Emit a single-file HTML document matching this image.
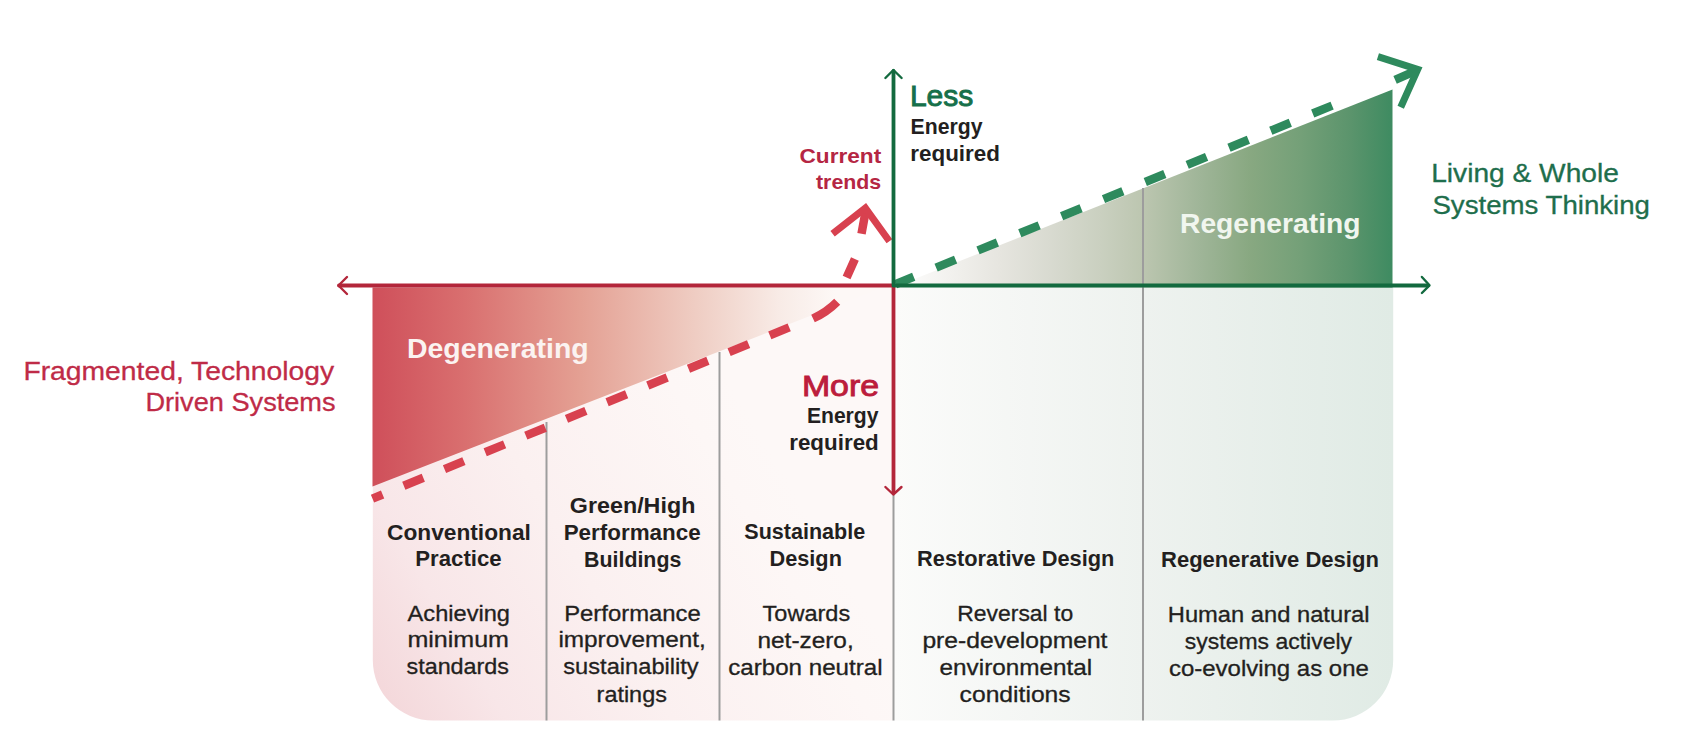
<!DOCTYPE html>
<html><head><meta charset="utf-8"><title>Degenerating to Regenerating</title>
<style>
html,body{margin:0;padding:0;background:#fff;}
body{width:1684px;height:752px;overflow:hidden;}
svg{display:block;}
text{font-family:"Liberation Sans",Arial,sans-serif;}
</style></head><body>
<svg width="1684" height="752" viewBox="0 0 1684 752">
<defs>
 <clipPath id="panel"><path d="M372.8,287H1393.2V660A60.5,60.5 0 0 1 1332.7,720.5H433.3A60.5,60.5 0 0 1 372.8,660Z"/></clipPath>
 <linearGradient id="gPink" gradientUnits="userSpaceOnUse" x1="372" y1="720" x2="784" y2="473">
  <stop offset="0" stop-color="#f3d5d8"/><stop offset="0.24" stop-color="#f8e6e8"/><stop offset="0.536" stop-color="#fbf0f0"/><stop offset="0.893" stop-color="#fdf7f6"/><stop offset="1" stop-color="#fdf8f7"/>
 </linearGradient>
 <linearGradient id="gGrey" gradientUnits="userSpaceOnUse" x1="893" y1="0" x2="1393" y2="0">
  <stop offset="0" stop-color="#fbfbfa"/><stop offset="0.5" stop-color="#eef2ef"/><stop offset="1" stop-color="#e0ebe5"/>
 </linearGradient>
 <linearGradient id="gRed" gradientUnits="userSpaceOnUse" x1="372" y1="0" x2="835" y2="0">
  <stop offset="0" stop-color="#cf4f5a"/><stop offset="0.2" stop-color="#d96f6f"/><stop offset="0.45" stop-color="#e4a093"/>
  <stop offset="0.7" stop-color="#efcdc3"/><stop offset="0.88" stop-color="#f8ebe6"/><stop offset="1" stop-color="#fdf8f6"/>
 </linearGradient>
 <linearGradient id="gGrn" gradientUnits="userSpaceOnUse" x1="893" y1="0" x2="1392.5" y2="0">
  <stop offset="0" stop-color="#ffffff"/><stop offset="0.114" stop-color="#f2f1ee"/><stop offset="0.214" stop-color="#e6e5df"/>
  <stop offset="0.315" stop-color="#d8dad0"/><stop offset="0.415" stop-color="#cad0c0"/><stop offset="0.5" stop-color="#bcc6b0"/>
  <stop offset="0.615" stop-color="#9fb598"/><stop offset="0.715" stop-color="#88a881"/><stop offset="0.816" stop-color="#74a078"/>
  <stop offset="0.916" stop-color="#5b946c"/><stop offset="1" stop-color="#3e8b61"/>
 </linearGradient>
</defs>
<rect width="1684" height="752" fill="#fff"/>
<g clip-path="url(#panel)">
 <rect x="372" y="287" width="521.5" height="440" fill="url(#gPink)"/>
 <rect x="893" y="287" width="501" height="440" fill="url(#gGrey)"/>
</g>
<path d="M372.5,287.5H883L372.5,486.5Z" fill="url(#gRed)"/>
<path d="M893,287.5L1392.5,89.5V287.5Z" fill="url(#gGrn)"/>
<g stroke="#9d9d9d" stroke-width="2" fill="none">
 <path d="M546.5,422V720.5M719.5,352V720.5M893.5,495V720.5M1143,188V720.5"/>
</g>
<g fill="none" stroke-linecap="butt">
 <path d="M372.5,498.7L382.6,494.5M403.8,485.8L423.3,477.8M444.5,469.1L463.9,461.1M485.2,452.3L504.6,444.4M525.8,435.6L545.3,427.7M566.5,418.9L585.9,410.9M607.1,402.2L626.6,394.2M647.8,385.5L667.2,377.5M688.5,368.8L707.9,360.8M729.1,352.1L748.6,344.1M769.8,335.4L789.2,327.4M813,318.5Q827,312 837.2,301.7M846.6,277.5L854.9,258.9M861.5,233.8L865.5,212" stroke="#d8414f" stroke-width="8.5"/>
 <path d="M832.6,233.8L865.4,208.1L889.4,241.2" stroke="#d8414f" stroke-width="7" stroke-linejoin="miter"/>
 <path d="M895.5,284.2L913.7,276.7M936.1,267.6L955.6,259.6M978.0,250.4L997.4,242.5M1019.8,233.3L1039.2,225.4M1061.6,216.2L1081.1,208.3M1103.5,199.1L1122.9,191.2M1145.3,182.0L1164.8,174.0M1187.2,164.9L1206.6,156.9M1229.0,147.8L1248.4,139.8M1270.8,130.7L1290.3,122.7M1312.7,113.5L1332.1,105.6M1395.1,79.9L1415,71.2" stroke="#2e8a5d" stroke-width="8.5"/>
 <path d="M1377.9,56.6L1417.7,69.5L1400.7,107.3" stroke="#2e8a5d" stroke-width="7" stroke-linejoin="miter"/>
</g>
<g fill="none" stroke-linecap="round" stroke-linejoin="round">
 <path d="M339,285.5H893.5V492" stroke="#b3263a" stroke-width="3.8"/>
 <path d="M347,277L338.5,285.5L347,294" stroke="#b3263a" stroke-width="2.4"/>
 <path d="M885.4,487L893.3,494.5L901.5,487" stroke="#b3263a" stroke-width="2.4"/>
 <path d="M893.5,285.5V71M893.5,285.5H1428" stroke="#136a3f" stroke-width="3.8"/>
 <path d="M885.4,78L893.4,70L901.6,78" stroke="#136a3f" stroke-width="2.4"/>
 <path d="M1421.9,277L1429.5,285.3L1421.9,293" stroke="#136a3f" stroke-width="2.4"/>
</g>
<text x="23.4" y="379.5" font-weight="400" font-size="26" fill="#bf2b47" stroke="#bf2b47" stroke-width="0.3" textLength="310.8" lengthAdjust="spacingAndGlyphs">Fragmented, Technology</text>
<text x="145.4" y="410.5" font-weight="400" font-size="26" fill="#bf2b47" stroke="#bf2b47" stroke-width="0.3" textLength="190.2" lengthAdjust="spacingAndGlyphs">Driven Systems</text>
<text x="406.9" y="357.9" font-weight="700" font-size="28.5" fill="#fbf3f1" textLength="181.8" lengthAdjust="spacingAndGlyphs">Degenerating</text>
<text x="799.5" y="162.5" font-weight="700" font-size="21" fill="#b52643" textLength="81.7" lengthAdjust="spacingAndGlyphs">Current</text>
<text x="816.0" y="188.6" font-weight="700" font-size="21" fill="#b52643" textLength="65.2" lengthAdjust="spacingAndGlyphs">trends</text>
<text x="909.9" y="105.7" font-weight="400" font-size="29" fill="#16704a" stroke="#16704a" stroke-width="0.9" textLength="63.4" lengthAdjust="spacingAndGlyphs">Less</text>
<text x="910.6" y="133.7" font-weight="700" font-size="21.5" fill="#231f20" textLength="72.0" lengthAdjust="spacingAndGlyphs">Energy</text>
<text x="910.3" y="160.5" font-weight="700" font-size="21.5" fill="#231f20" textLength="89.7" lengthAdjust="spacingAndGlyphs">required</text>
<text x="1431.2" y="182.1" font-weight="400" font-size="25" fill="#1e6e4c" stroke="#1e6e4c" stroke-width="0.3" textLength="187.7" lengthAdjust="spacingAndGlyphs">Living &amp; Whole</text>
<text x="1432.4" y="214.1" font-weight="400" font-size="25" fill="#1e6e4c" stroke="#1e6e4c" stroke-width="0.3" textLength="217.6" lengthAdjust="spacingAndGlyphs">Systems Thinking</text>
<text x="1180.0" y="233.0" font-weight="700" font-size="28.5" fill="#f1f6ef" textLength="180.5" lengthAdjust="spacingAndGlyphs">Regenerating</text>
<text x="801.9" y="395.7" font-weight="400" font-size="29.5" fill="#bc1d3c" stroke="#bc1d3c" stroke-width="0.9" textLength="77.2" lengthAdjust="spacingAndGlyphs">More</text>
<text x="806.9" y="422.7" font-weight="700" font-size="21.5" fill="#231f20" textLength="71.6" lengthAdjust="spacingAndGlyphs">Energy</text>
<text x="789.2" y="449.7" font-weight="700" font-size="21.5" fill="#231f20" textLength="89.6" lengthAdjust="spacingAndGlyphs">required</text>
<text x="387.0" y="539.5" font-weight="700" font-size="22.5" fill="#231f20" textLength="143.9" lengthAdjust="spacingAndGlyphs">Conventional</text>
<text x="415.3" y="566.3" font-weight="700" font-size="22.5" fill="#231f20" textLength="86.3" lengthAdjust="spacingAndGlyphs">Practice</text>
<text x="569.8" y="513.2" font-weight="700" font-size="22.5" fill="#231f20" textLength="125.6" lengthAdjust="spacingAndGlyphs">Green/High</text>
<text x="563.7" y="539.5" font-weight="700" font-size="22.5" fill="#231f20" textLength="136.9" lengthAdjust="spacingAndGlyphs">Performance</text>
<text x="584.1" y="566.7" font-weight="700" font-size="22.5" fill="#231f20" textLength="97.2" lengthAdjust="spacingAndGlyphs">Buildings</text>
<text x="744.3" y="539.3" font-weight="700" font-size="22.5" fill="#231f20" textLength="120.9" lengthAdjust="spacingAndGlyphs">Sustainable</text>
<text x="769.5" y="566.4" font-weight="700" font-size="22.5" fill="#231f20" textLength="72.4" lengthAdjust="spacingAndGlyphs">Design</text>
<text x="917.1" y="566.4" font-weight="700" font-size="22.5" fill="#231f20" textLength="197.3" lengthAdjust="spacingAndGlyphs">Restorative Design</text>
<text x="1161.0" y="567.0" font-weight="700" font-size="22.5" fill="#231f20" textLength="217.9" lengthAdjust="spacingAndGlyphs">Regenerative Design</text>
<text x="407.6" y="620.5" font-weight="400" font-size="21.5" fill="#231f20" stroke="#231f20" stroke-width="0.3" textLength="102.4" lengthAdjust="spacingAndGlyphs">Achieving</text>
<text x="407.4" y="647.0" font-weight="400" font-size="21.5" fill="#231f20" stroke="#231f20" stroke-width="0.3" textLength="101.6" lengthAdjust="spacingAndGlyphs">minimum</text>
<text x="406.5" y="674.4" font-weight="400" font-size="21.5" fill="#231f20" stroke="#231f20" stroke-width="0.3" textLength="102.5" lengthAdjust="spacingAndGlyphs">standards</text>
<text x="564.2" y="620.5" font-weight="400" font-size="21.5" fill="#231f20" stroke="#231f20" stroke-width="0.3" textLength="136.6" lengthAdjust="spacingAndGlyphs">Performance</text>
<text x="558.4" y="647.0" font-weight="400" font-size="21.5" fill="#231f20" stroke="#231f20" stroke-width="0.3" textLength="147.5" lengthAdjust="spacingAndGlyphs">improvement,</text>
<text x="563.3" y="674.4" font-weight="400" font-size="21.5" fill="#231f20" stroke="#231f20" stroke-width="0.3" textLength="135.4" lengthAdjust="spacingAndGlyphs">sustainability</text>
<text x="596.6" y="701.8" font-weight="400" font-size="21.5" fill="#231f20" stroke="#231f20" stroke-width="0.3" textLength="70.3" lengthAdjust="spacingAndGlyphs">ratings</text>
<text x="762.6" y="621.2" font-weight="400" font-size="21.5" fill="#231f20" stroke="#231f20" stroke-width="0.3" textLength="87.6" lengthAdjust="spacingAndGlyphs">Towards</text>
<text x="757.5" y="648.3" font-weight="400" font-size="21.5" fill="#231f20" stroke="#231f20" stroke-width="0.3" textLength="96.2" lengthAdjust="spacingAndGlyphs">net-zero,</text>
<text x="728.2" y="674.9" font-weight="400" font-size="21.5" fill="#231f20" stroke="#231f20" stroke-width="0.3" textLength="154.4" lengthAdjust="spacingAndGlyphs">carbon neutral</text>
<text x="957.3" y="621.0" font-weight="400" font-size="21.5" fill="#231f20" stroke="#231f20" stroke-width="0.3" textLength="115.9" lengthAdjust="spacingAndGlyphs">Reversal to</text>
<text x="922.4" y="648.0" font-weight="400" font-size="21.5" fill="#231f20" stroke="#231f20" stroke-width="0.3" textLength="185.1" lengthAdjust="spacingAndGlyphs">pre-development</text>
<text x="939.6" y="675.0" font-weight="400" font-size="21.5" fill="#231f20" stroke="#231f20" stroke-width="0.3" textLength="152.6" lengthAdjust="spacingAndGlyphs">environmental</text>
<text x="959.6" y="702.0" font-weight="400" font-size="21.5" fill="#231f20" stroke="#231f20" stroke-width="0.3" textLength="111.1" lengthAdjust="spacingAndGlyphs">conditions</text>
<text x="1167.8" y="621.8" font-weight="400" font-size="21.5" fill="#231f20" stroke="#231f20" stroke-width="0.3" textLength="201.7" lengthAdjust="spacingAndGlyphs">Human and natural</text>
<text x="1184.8" y="648.7" font-weight="400" font-size="21.5" fill="#231f20" stroke="#231f20" stroke-width="0.3" textLength="167.2" lengthAdjust="spacingAndGlyphs">systems actively</text>
<text x="1168.9" y="675.7" font-weight="400" font-size="21.5" fill="#231f20" stroke="#231f20" stroke-width="0.3" textLength="200.0" lengthAdjust="spacingAndGlyphs">co-evolving as one</text>
</svg>
</body></html>
